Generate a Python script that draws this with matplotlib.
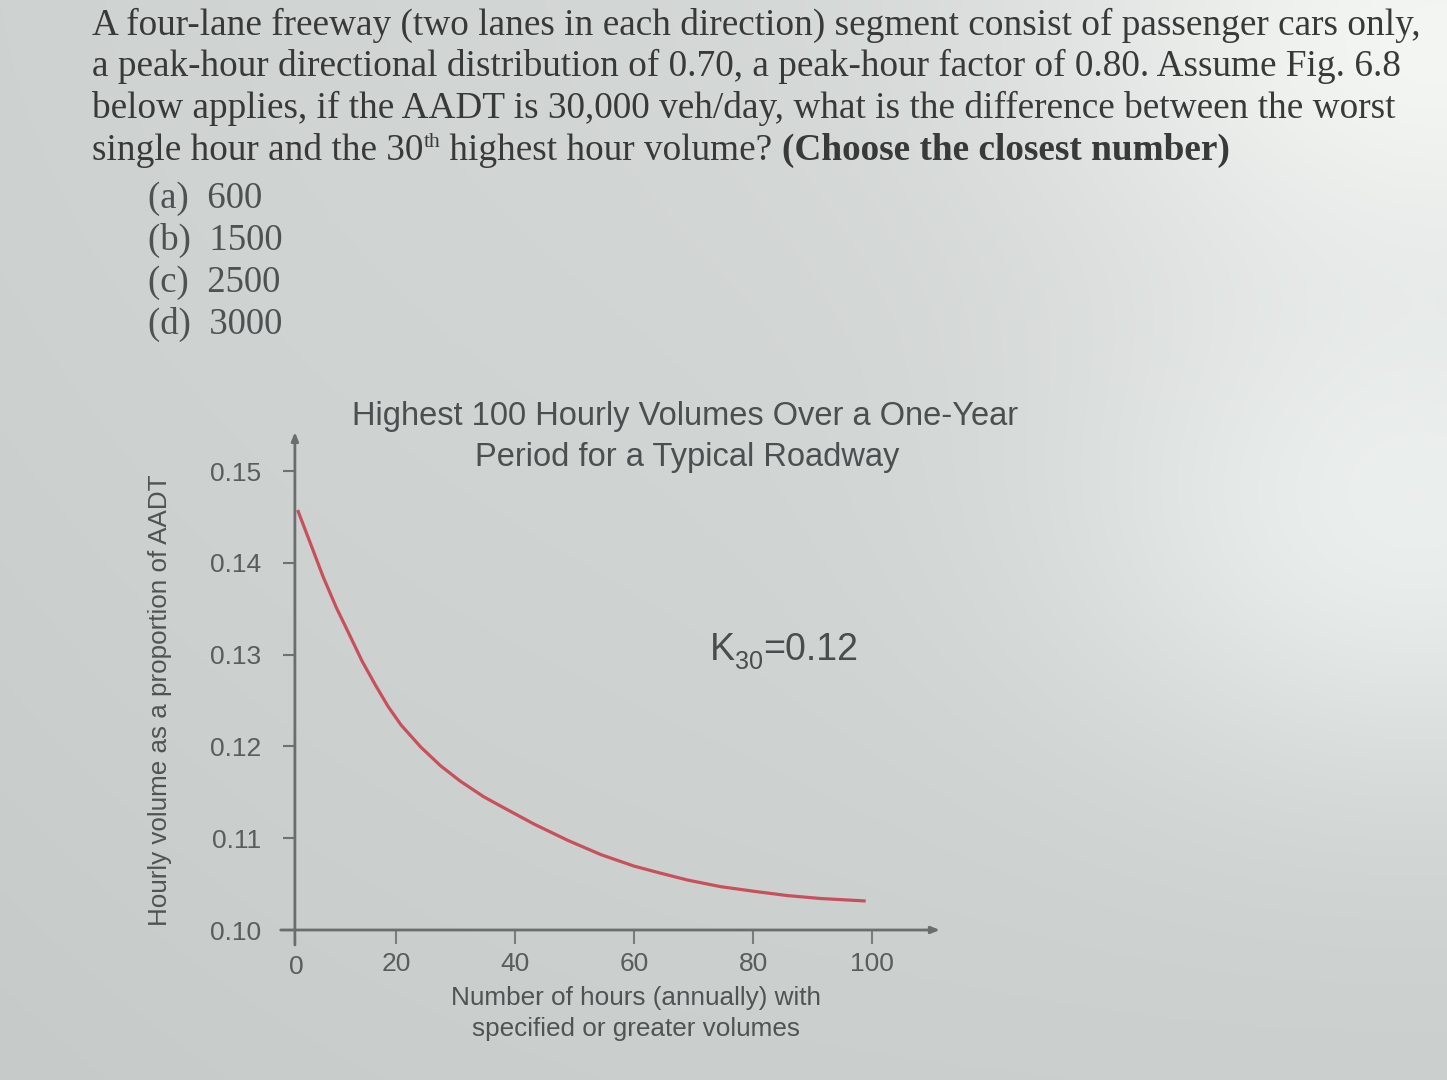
import numpy as np
import matplotlib
matplotlib.use("Agg")
import matplotlib.pyplot as plt

# ---------------- data ----------------
hours = [3.46, 5.62, 7.77, 9.95, 12.13, 14.3, 16.5, 18.68, 20.87, 24.18, 27.5,
         30.83, 34.72, 37.78, 43.28, 48.91, 54.47, 60.0, 64.52, 69.0, 74.57,
         80.1, 85.76, 91.36, 98.93]
k_values = [0.14575, 0.1421, 0.13844, 0.13514, 0.13222, 0.12928, 0.12672,
            0.12433, 0.12231, 0.11991, 0.11788, 0.1162, 0.11452, 0.11343,
            0.11151, 0.10975, 0.1082, 0.10696, 0.10618, 0.10544, 0.10472,
            0.10422, 0.10375, 0.10343, 0.10316]
y_ticks = [0.10, 0.11, 0.12, 0.13, 0.14, 0.15]
x_ticks = [20, 40, 60, 80, 100]

question_lines = [
    "A four-lane freeway (two lanes in each direction) segment consist of passenger cars only,",
    "a peak-hour directional distribution of 0.70, a peak-hour factor of 0.80. Assume Fig. 6.8",
    "below applies, if the AADT is 30,000 veh/day, what is the difference between the worst",
]
answers = ["(a)  600", "(b)  1500", "(c)  2500", "(d)  3000"]
title_lines = ["Highest 100 Hourly Volumes Over a One-Year",
               "Period for a Typical Roadway"]
xlabel_lines = ["Number of hours (annually) with",
                "specified or greater volumes"]
ylabel = "Hourly volume as a proportion of AADT"

W, H = 1447, 1080
fig = plt.figure(figsize=(W / 100, H / 100), dpi=100)

# ---------------- background (photo of a screen) ----------------
bg = fig.add_axes([0, 0, 1, 1])
gy, gx = np.mgrid[0:1:216j, 0:1:290j]
base = np.array([211, 215, 214], float)
img = np.ones(gy.shape + (3,)) * base
img -= (gy ** 1.5)[..., None] * 8
img -= ((1 - gx) ** 3)[..., None] * 5
glare1 = np.exp(-(((gx - 1.0) / 0.28) ** 2 + ((gy - 0.03) / 0.22) ** 2))
glare2 = np.exp(-(((gx - 0.98) / 0.24) ** 2 + ((gy - 0.48) / 0.24) ** 2))
img += glare1[..., None] * np.array([32, 30, 28])
img += glare2[..., None] * np.array([26, 26, 26])
img = np.clip(img, 0, 255) / 255
bg.imshow(img, extent=[0, 1, 0, 1], aspect="auto", interpolation="bicubic", zorder=0)
bg.axis("off")

renderer = fig.canvas.get_renderer()


def fx(x):
    return x / W


def fy(y):
    return 1 - y / H


def seq(x_px, y_px, parts, **common):
    x = x_px
    for s, kw in parts:
        kw = dict(kw)
        dy = kw.pop("dy", 0)
        t = fig.text(fx(x), fy(y_px + dy), s, va="baseline", ha="left", **{**common, **kw})
        x += t.get_window_extent(renderer).width
    return x


# ---------------- question text ----------------
serif = "Liberation Serif"
qcol = "#383a3a"
qsize = 26.8
q_base = [35, 76, 118, 160]
for i, line in enumerate(question_lines):
    fig.text(fx(92), fy(q_base[i]), line, family=serif, fontsize=qsize, color=qcol,
             va="baseline", ha="left")
seq(92, q_base[3], [
    ("single hour and the 30", {}),
    ("th", {"fontsize": 15.5, "dy": -13}),
    (" highest hour volume? ", {}),
    ("(Choose the closest number)", {"fontweight": "bold"}),
], family=serif, fontsize=qsize, color=qcol)

a_base = [208, 250, 292, 334]
for i, a in enumerate(answers):
    fig.text(fx(148), fy(a_base[i]), a, family=serif, fontsize=26.5, color="#4f5252",
             va="baseline", ha="left")

# ---------------- chart ----------------
sans = "Liberation Sans"
ax_left_px, ax_bottom_px, ax_w_px, ax_h_px = 294.9, 930, 645, 498
ax = fig.add_axes([fx(ax_left_px), fy(ax_bottom_px), ax_w_px / W, ax_h_px / H])
ax.set_facecolor("none")
ax.plot(hours, k_values, color="#c8505c", lw=2.3, solid_capstyle="butt",
        solid_joinstyle="round", zorder=3)
ax.set_xlim(3.0, 111.4)
ax.set_ylim(0.10, 0.15425)
for s in ax.spines.values():
    s.set_visible(False)
ax.set_yticks(y_ticks)
ax.set_yticklabels([f"{v:.2f}" for v in y_ticks], family=sans)
ax.set_xticks(x_ticks)
ax.set_xticklabels([str(v) for v in x_ticks], family=sans)
ax.tick_params(axis="y", direction="out", length=9, width=1.5, colors="#6f7272",
               pad=15, labelsize=19, labelcolor="#5a5d5d")
ax.tick_params(axis="x", direction="out", length=10, width=1.5, colors="#7a7d7d",
               pad=6, labelsize=19, labelcolor="#5a5d5d")

axis_col = "#6a6e6e"
ax.annotate("", xy=(1.0, 0), xytext=(-0.022, 0), xycoords="axes fraction",
            arrowprops=dict(arrowstyle="-|>,head_length=0.5,head_width=0.2",
                            color=axis_col, lw=2, shrinkA=0, shrinkB=0))
ax.annotate("", xy=(0, 1.0), xytext=(0, -0.03), xycoords="axes fraction",
            arrowprops=dict(arrowstyle="-|>,head_length=0.5,head_width=0.2",
                            color=axis_col, lw=2, shrinkA=0, shrinkB=0))
# "0" label at the origin
fig.text(fx(296), fy(974), "0", family=sans, fontsize=19, color="#5a5d5d",
         ha="center", va="baseline")

# title
tcol = "#4c4f4f"
fig.text(fx(685), fy(425), title_lines[0], family=sans, fontsize=23.5, color=tcol,
         ha="center", va="baseline")
fig.text(fx(687), fy(466), title_lines[1], family=sans, fontsize=23.5, color=tcol,
         ha="center", va="baseline")

# K30 annotation
seq(710, 660, [
    ("K", {}),
    ("30", {"fontsize": 18, "dy": 9}),
    ("=0.12", {}),
], family=sans, fontsize=27, color="#4a4d4d")

# axis labels
lcol = "#505353"
fig.text(fx(160), fy(700), ylabel, family=sans, fontsize=18.7, color=lcol,
         rotation=90, ha="center", va="center")
fig.text(fx(636), fy(1005), xlabel_lines[0], family=sans, fontsize=18.8, color=lcol,
         ha="center", va="baseline")
fig.text(fx(636), fy(1036), xlabel_lines[1], family=sans, fontsize=18.8, color=lcol,
         ha="center", va="baseline")

fig.savefig("out.png", dpi=100)
